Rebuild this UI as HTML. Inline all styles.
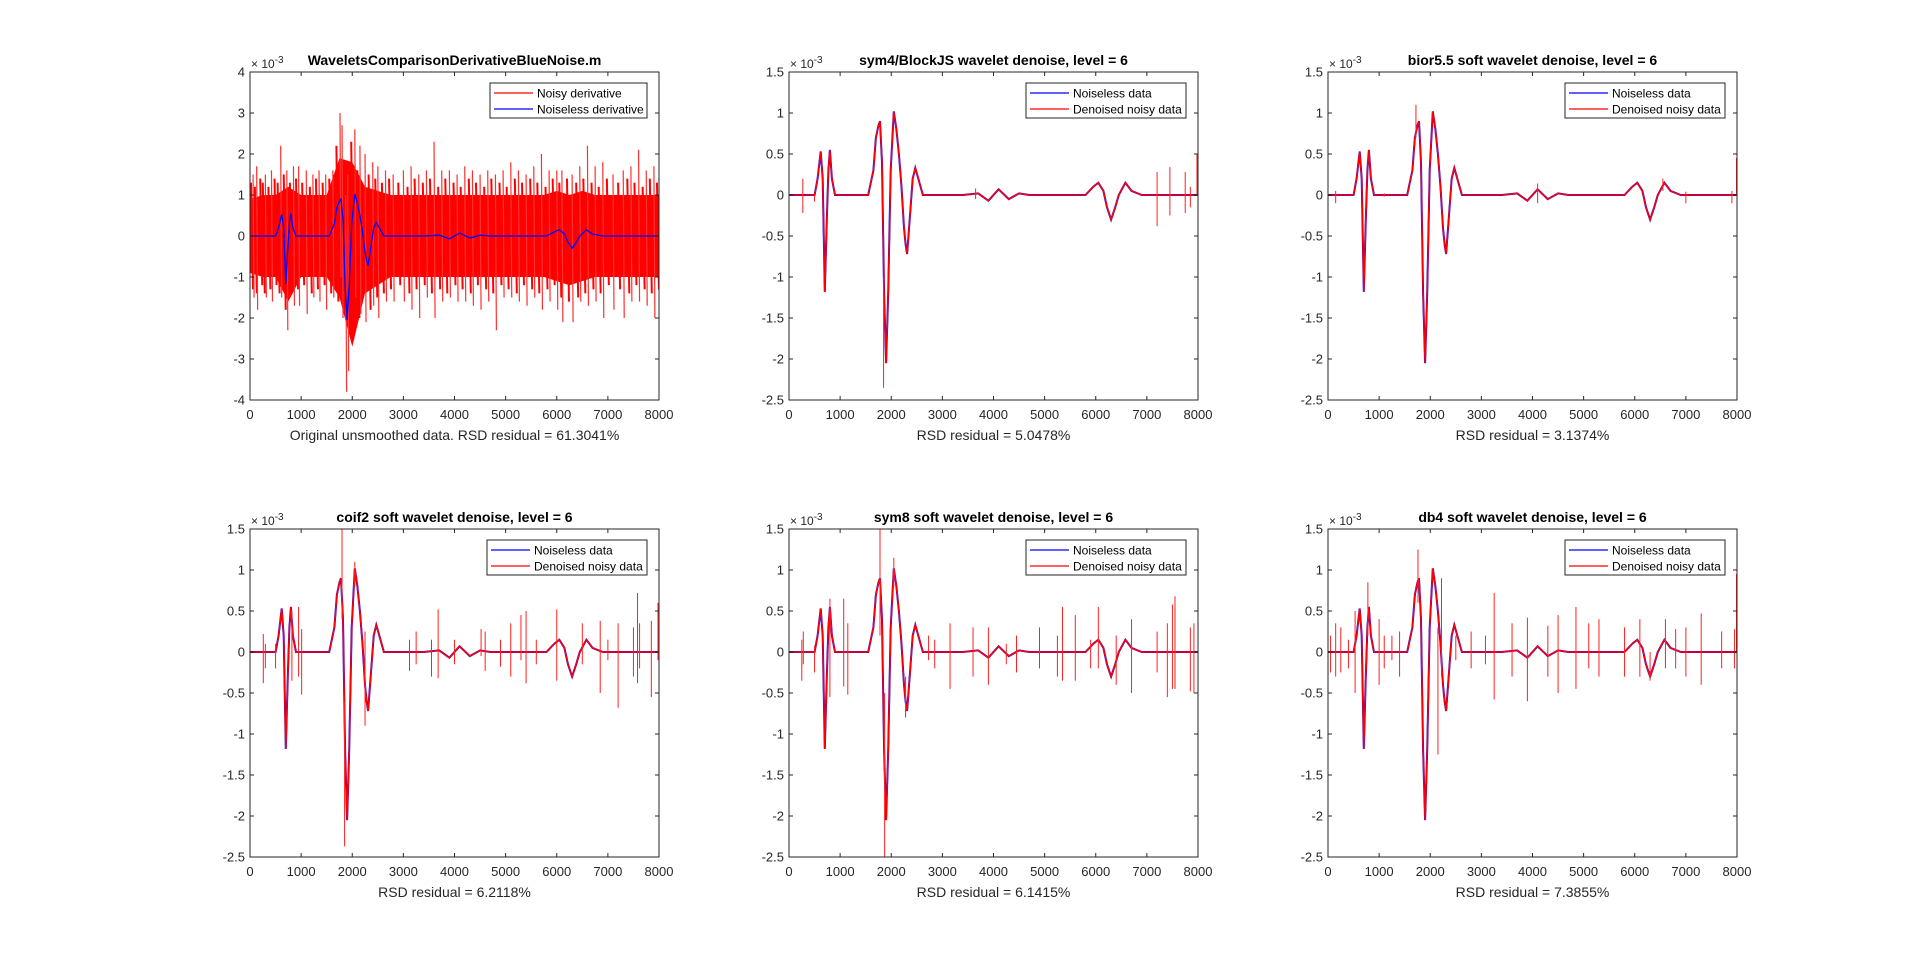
<!DOCTYPE html>
<html><head><meta charset="utf-8"><style>
html,body{margin:0;padding:0;background:#fff;}
svg{display:block;font-family:"Liberation Sans",Arial,sans-serif;}
</style></head><body>
<svg id="fig" width="1920" height="963" viewBox="0 0 1920 963" xmlns="http://www.w3.org/2000/svg"></svg>
<script>
// ---- data (y values in units of 1e-3) ----
const cleanX = [0,500,560,620,660,700,740,770,800,840,900,1550,1650,1700,1750,1780,1820,1860,1900,1940,1990,2050,2100,2150,2200,2250,2280,2310,2360,2420,2470,2530,2620,3400,3700,3900,4100,4300,4500,4700,5800,5950,6050,6150,6220,6300,6380,6450,6580,6700,6900,8000];
const cleanY = [0,0,0.2,0.53,0.2,-1.18,-0.3,0.3,0.55,0.2,0,0,0.3,0.7,0.85,0.9,0.4,-1.2,-2.05,-1.2,0.3,1.02,0.8,0.5,0.1,-0.4,-0.6,-0.72,-0.3,0.2,0.33,0.2,0,0,0.02,-0.07,0.07,-0.05,0.02,0,0,0.1,0.15,0.05,-0.15,-0.3,-0.15,0.0,0.15,0.05,0,0];
// top-left noisy band envelope (every 250 samples)
const envX = [0,250,500,750,1000,1250,1500,1750,2000,2250,2500,2750,3000,3250,3500,3750,4000,4250,4500,4750,5000,5250,5500,5750,6000,6250,6500,6750,7000,7250,7500,7750,8000];
const envHi = [0.9,1.0,1.0,1.2,1.0,1.0,1.0,1.9,1.8,1.2,1.1,1.0,1.0,1.0,1.0,1.0,1.0,1.0,1.0,1.0,1.0,1.0,1.0,1.0,1.1,1.0,1.1,1.0,1.0,1.0,1.0,1.0,1.0];
const envLo = [-0.9,-1.0,-1.0,-1.6,-1.0,-1.0,-1.0,-1.5,-2.7,-1.4,-1.2,-1.0,-1.0,-1.0,-1.0,-1.0,-1.0,-1.0,-1.0,-1.0,-1.0,-1.0,-1.0,-1.0,-1.1,-1.2,-1.1,-1.0,-1.0,-1.0,-1.0,-1.0,-1.0];
const noisySpkX = [60,130,300,420,600,720,850,950,1100,1230,1350,1480,1620,1760,1800,1870,1910,2050,2150,2250,2400,2500,2650,2800,3000,3150,3300,3450,3600,3750,3900,4050,4200,4350,4500,4650,4800,4950,5100,5250,5400,5550,5700,5850,6000,6100,6300,6450,6600,6750,6900,7100,7300,7450,7600,7750,7900,8000];
const noisySpkHi = [1.5,1.7,1.5,1.6,2.2,1.6,1.7,1.7,1.6,1.5,1.6,1.5,1.6,3.0,2.7,1.0,1.5,2.6,2.2,2.0,1.8,1.7,1.6,1.5,1.6,1.7,1.5,1.6,2.3,1.6,1.6,1.5,1.7,1.6,1.5,1.6,1.5,1.6,1.8,1.6,1.5,1.7,2.0,1.6,1.6,1.6,1.5,1.7,2.2,1.7,1.8,1.5,1.6,1.7,2.1,1.6,1.7,1.4];
const noisySpkLo = [-1.5,-1.8,-1.5,-1.6,-1.5,-2.3,-1.7,-1.7,-1.9,-1.5,-1.6,-1.8,-1.5,-1.0,-2.0,-3.8,-3.3,-1.5,-1.9,-2.1,-1.7,-2.0,-1.6,-1.6,-1.6,-1.8,-2.0,-1.5,-2.0,-1.6,-1.5,-1.6,-1.6,-1.7,-1.8,-1.6,-2.3,-1.5,-1.5,-1.6,-1.7,-1.5,-1.8,-1.6,-1.8,-2.1,-2.1,-1.6,-1.7,-1.6,-2.0,-1.8,-2.0,-1.6,-1.6,-1.7,-2.0,-1.2];
const noisyFillX = [20,95,200,250,360,480,540,660,780,900,1020,1170,1290,1420,1550,1690,1980,2100,2320,2450,2580,2720,2900,3080,3220,3380,3520,3680,3820,3980,4120,4280,4420,4580,4720,4880,5020,5180,5320,5480,5620,5780,5920,6050,6200,6380,6520,6680,6820,6980,7200,7380,7520,7680,7820,7960];
const noisyFillHi = [1.3,1.2,1.4,1.3,1.2,1.4,1.3,1.5,1.3,1.4,1.3,1.2,1.4,1.3,1.4,2.2,2.3,1.6,1.5,1.4,1.3,1.4,1.3,1.2,1.4,1.3,1.4,1.2,1.4,1.3,1.2,1.4,1.3,1.2,1.4,1.3,1.2,1.4,1.3,1.4,1.3,1.2,1.4,1.3,1.4,1.3,1.4,1.3,1.2,1.4,1.3,1.4,1.3,1.2,1.4,1.3];
const noisyFillLo = [-1.3,-1.4,-1.2,-1.4,-1.3,-1.2,-1.4,-1.8,-1.4,-1.3,-1.2,-1.4,-1.3,-1.2,-1.4,-1.6,-2.5,-2.0,-1.8,-1.5,-1.4,-1.3,-1.2,-1.4,-1.3,-1.2,-1.4,-1.3,-1.4,-1.2,-1.3,-1.4,-1.2,-1.3,-1.4,-1.2,-1.3,-1.4,-1.2,-1.3,-1.4,-1.3,-1.2,-1.5,-1.6,-1.5,-1.4,-1.3,-1.4,-1.2,-1.3,-1.4,-1.2,-1.3,-1.4,-1.3];
// denoised panels: spikes (x, top, bottom)
const sym4X=[270,500,1850,3650,7200,7450,7750,7850,7980];
const sym4Hi=[0.2,0,-1.0,0.08,0.28,0.34,0.28,0.1,0.5];
const sym4Lo=[-0.22,-0.08,-2.35,-0.05,-0.38,-0.25,-0.22,-0.15,0];
const biorX=[150,1100,1720,4100,6550,7000,7900,7990];
const biorHi=[0.05,0.02,1.1,0.14,0.2,0.04,0.05,0.45];
const biorLo=[-0.1,-0.02,0.7,-0.1,0.05,-0.1,-0.1,0];
const coifX=[260,300,500,820,950,1010,1800,1850,2050,2250,3120,3250,3550,3680,4000,4520,4600,4900,5100,5300,5400,5600,6000,6500,6850,7000,7200,7500,7580,7620,7850,7980];
const coifHi=[0.22,0.1,0.1,0.5,0.55,0.28,1.5,-0.6,1.1,0.25,0.15,0.25,0.15,0.52,0.15,0.28,0.25,0.15,0.35,0.45,0.5,0.15,0.52,0.35,0.38,0.15,0.35,0.3,0.72,0.35,0.38,0.6];
const coifLo=[-0.38,-0.2,-0.2,-0.35,-0.3,-0.52,0.4,-2.37,0.8,-0.9,-0.23,-0.15,-0.3,-0.32,-0.15,-0.05,-0.23,-0.18,-0.3,-0.1,-0.38,-0.15,-0.35,-0.15,-0.5,-0.1,-0.68,-0.3,-0.38,-0.2,-0.55,-0.1];
const sym8X=[250,280,500,800,1070,1150,1780,1870,2050,2280,2730,2850,3150,3600,3900,4250,4450,4900,5250,5350,5600,5900,6050,6400,6700,7200,7400,7500,7550,7850,7920,8000];
const sym8Hi=[0.15,0.25,0.08,0.65,0.65,0.35,1.5,-0.5,1.15,-0.3,0.2,0.15,0.35,0.3,0.3,0.1,0.2,0.3,0.2,0.55,0.45,0.15,0.55,0.2,0.4,0.25,0.35,0.58,0.68,0.3,0.35,0.3];
const sym8Lo=[-0.35,-0.15,-0.25,-0.55,-0.42,-0.52,0.2,-2.5,0.8,-0.8,-0.1,-0.2,-0.45,-0.3,-0.4,-0.15,-0.25,-0.2,-0.3,-0.35,-0.35,-0.2,-0.2,-0.4,-0.5,-0.25,-0.55,-0.45,-0.45,-0.48,-0.5,0];
const db4X=[50,150,250,400,530,780,1000,1100,1250,1400,1760,2150,2220,2500,2800,3080,3250,3600,3900,4300,4500,4850,5100,5300,5800,6100,6300,6600,6800,7000,7300,7700,7950,7990];
const db4Hi=[0.2,0.35,0.3,0.15,0.5,0.85,0.4,0.2,0.2,0.25,1.25,0.3,0.9,0.2,0.25,0.2,0.72,0.35,0.42,0.32,0.45,0.55,0.35,0.4,0.3,0.4,0,0.4,0.28,0.3,0.47,0.25,0.28,0.95];
const db4Lo=[-0.25,-0.3,-0.25,-0.2,-0.5,0.2,-0.4,-0.2,-0.1,-0.3,0.6,-1.25,-0.3,-0.1,-0.2,-0.15,-0.58,-0.3,-0.6,-0.3,-0.5,-0.45,-0.2,-0.3,-0.3,-0.3,-0.35,-0.2,-0.2,-0.3,-0.4,-0.2,-0.2,0];
const xTicks=[0,1000,2000,3000,4000,5000,6000,7000,8000];
const yTicksA=[-4,-3,-2,-1,0,1,2,3,4];
const yTicksB=[-2.5,-2,-1.5,-1,-0.5,0,0.5,1,1.5];

const NS="http://www.w3.org/2000/svg";
const svg=document.getElementById('fig');
function mk(tag,attrs,parent,name,inter){const e=document.createElementNS(NS,tag);for(const k in attrs)e.setAttribute(k,attrs[k]);


(parent||svg).appendChild(e);return e;}

const panels=[
 {left:250,top:72,title:'WaveletsComparisonDerivativeBlueNoise.m',xl:'Original unsmoothed data. RSD residual =  61.3041%',yt:yTicksA,noisy:true,leg:['Noisy derivative','Noiseless derivative']},
 {left:789,top:72,title:'sym4/BlockJS wavelet denoise, level = 6',xl:'RSD residual =  5.0478%',yt:yTicksB,sx:sym4X,sh:sym4Hi,sl:sym4Lo},
 {left:1328,top:72,title:'bior5.5 soft wavelet denoise, level = 6',xl:'RSD residual =  3.1374%',yt:yTicksB,sx:biorX,sh:biorHi,sl:biorLo},
 {left:250,top:529,title:'coif2 soft wavelet denoise, level = 6',xl:'RSD residual =  6.2118%',yt:yTicksB,sx:coifX,sh:coifHi,sl:coifLo},
 {left:789,top:529,title:'sym8 soft wavelet denoise, level = 6',xl:'RSD residual =  6.1415%',yt:yTicksB,sx:sym8X,sh:sym8Hi,sl:sym8Lo},
 {left:1328,top:529,title:'db4 soft wavelet denoise, level = 6',xl:'RSD residual =  7.3855%',yt:yTicksB,sx:db4X,sh:db4Hi,sl:db4Lo}
];
const W=409,H=328;
panels.forEach((p,i)=>{
 const g=mk('g',{},svg,'subplot-'+(i+1),false);
 const y0=p.yt[0],y1=p.yt[p.yt.length-1];
 const X=v=>p.left+v/8000*W;
 const Y=v=>p.top+H-(v-y0)/(y1-y0)*H;
 const cp=mk('clipPath',{id:'cp'+i},g,'clip',false);
 mk('rect',{x:p.left,y:p.top,width:W,height:H},cp,'clip-rect',false);
 const plot=mk('g',{'clip-path':'url(#cp'+i+')'},g,'plot-area',false);
 const cleanPts=cleanX.map((x,k)=>X(x).toFixed(1)+','+Y(cleanY[k]).toFixed(1)).join(' ');
 if(p.noisy){
   const top=envX.map((x,k)=>X(x).toFixed(1)+','+Y(envHi[k]).toFixed(1));
   const bot=envX.map((x,k)=>X(x).toFixed(1)+','+Y(envLo[k]).toFixed(1)).reverse();
   mk('polygon',{points:top.concat(bot).join(' '),fill:'#ff0000'},plot,'noisy-derivative-band',false);
   noisyFillX.forEach((x,k)=>{
     mk('line',{x1:X(x),x2:X(x)+2,y1:Y(noisyFillHi[k]),y2:Y(noisyFillLo[k]),stroke:'#ff0000','stroke-width':2},plot,'noisy-band-edge',false);
   });
   noisySpkX.forEach((x,k)=>{
     mk('line',{x1:X(x),x2:X(x)+1,y1:Y(noisySpkHi[k]),y2:Y(noisySpkLo[k]),stroke:'#ff3030','stroke-width':1.2},plot,'noisy-spike',false);
   });
   mk('polyline',{points:cleanPts,fill:'none',stroke:'#0000ff','stroke-width':1.3},plot,'noiseless-derivative-line',false);
 } else {
   mk('polyline',{points:cleanPts,fill:'none',stroke:'#0000ff','stroke-width':2},plot,'noiseless-data-line',false);
   mk('polyline',{points:cleanPts,fill:'none',stroke:'#ff0000','stroke-width':1.5},plot,'denoised-data-line',false);
   p.sx.forEach((x,k)=>{
     mk('line',{x1:X(x),x2:X(x),y1:Y(p.sh[k]),y2:Y(p.sl[k]),stroke:'#ff2020','stroke-width':1},plot,'denoised-spike',false);
   });
 }
 // axes box
 mk('rect',{x:p.left,y:p.top,width:W,height:H,fill:'none',stroke:'#262626','stroke-width':1},g,'axes-box',false);
 xTicks.forEach(t=>{
   const x=X(t);
   mk('line',{x1:x,x2:x,y1:p.top+H,y2:p.top+H-4,stroke:'#262626'},g,'x-tick',false);
   mk('line',{x1:x,x2:x,y1:p.top,y2:p.top+4,stroke:'#262626'},g,'x-tick-top',false);
   const tx=mk('text',{x:x,y:p.top+H+19,'font-size':13,'text-anchor':'middle',fill:'#262626'},g,'x-tick-label',false);tx.textContent=t;
 });
 p.yt.forEach(t=>{
   const y=Y(t);
   mk('line',{x1:p.left,x2:p.left+4,y1:y,y2:y,stroke:'#262626'},g,'y-tick',false);
   mk('line',{x1:p.left+W,x2:p.left+W-4,y1:y,y2:y,stroke:'#262626'},g,'y-tick-right',false);
   const tx=mk('text',{x:p.left-5,y:y+4.5,'font-size':13,'text-anchor':'end',fill:'#262626'},g,'y-tick-label',false);tx.textContent=t;
 });
 const ex=mk('text',{x:p.left+1,y:p.top-4,'font-size':12,fill:'#262626'},g,'y-exponent',false);
 ex.innerHTML='× 10<tspan dy="-5" font-size="10">-3</tspan>';
 const ti=mk('text',{x:p.left+W/2,y:p.top-7,'font-size':14,'font-weight':'bold','text-anchor':'middle',fill:'#000'},g,'subplot-title',false);ti.textContent=p.title;
 const xl=mk('text',{x:p.left+W/2,y:p.top+H+40,'font-size':14,'text-anchor':'middle',fill:'#262626'},g,'x-axis-label',false);xl.textContent=p.xl;
 // legend
 const lw=p.noisy?157:160, lx=p.left+W-lw-12, ly=p.top+11;
 const lg=mk('g',{},g,'legend',true);
 mk('rect',{x:lx,y:ly,width:lw,height:35,fill:'#fff',stroke:'#262626'},lg,'legend-box',false);
 const labels=p.noisy?p.leg:['Noiseless data','Denoised noisy data'];
 const cols=p.noisy?['#ff0000','#0000ff']:['#0000ff','#ff0000'];
 labels.forEach((l,k)=>{
   const yy=ly+10+k*16;
   mk('line',{x1:lx+4,x2:lx+43,y1:yy,y2:yy,stroke:cols[k],'stroke-width':1.3},lg,'legend-swatch',false);
   const t=mk('text',{x:lx+47,y:yy+4.5,'font-size':12,fill:'#000'},lg,'legend-entry',false);t.textContent=l;
 });
});
</script>
</body></html>
